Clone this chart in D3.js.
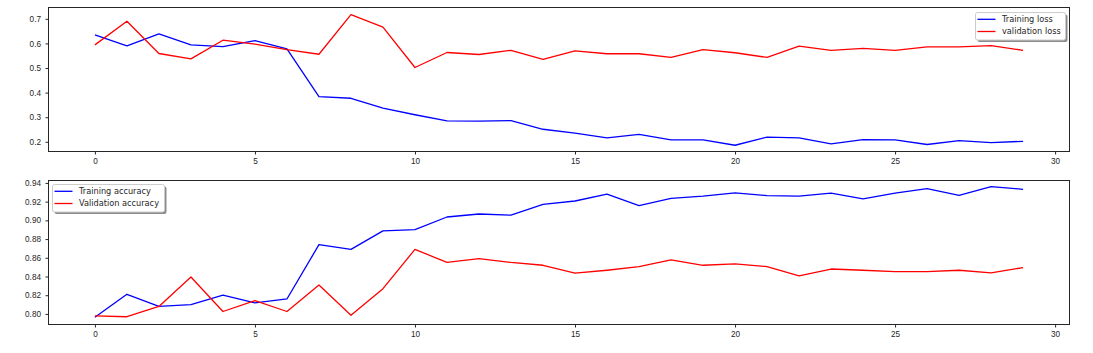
<!DOCTYPE html>
<html>
<head>
<meta charset="utf-8">
<script src="https://cdn.jsdelivr.net/npm/d3@7"></script>
<style>
  body { margin: 0; background: #fff; }
  svg { display: block; font-family: "DejaVu Sans", sans-serif; }
  .tick text { fill: #262626; font-size: 8.2px; }
  .tick line { stroke: #262626; }
  .domain { display: none; }
</style>
</head>
<body>
<svg id="chart" width="1093" height="353"></svg>
<script>
// epochs
const epochs = d3.range(30);

// loss per epoch
const trainLoss = [0.635, 0.590, 0.639, 0.594, 0.587, 0.611, 0.578, 0.384, 0.377, 0.337,
    0.310, 0.285, 0.284, 0.286, 0.251, 0.235, 0.216, 0.230, 0.208, 0.208,
    0.186, 0.219, 0.216, 0.192, 0.209, 0.208, 0.189, 0.205, 0.197, 0.202];
const valLoss = [0.594, 0.690, 0.559, 0.537, 0.613, 0.597, 0.575, 0.556, 0.717, 0.666,
    0.502, 0.563, 0.555, 0.572, 0.535, 0.570, 0.558, 0.558, 0.543, 0.575,
    0.562, 0.543, 0.589, 0.572, 0.580, 0.572, 0.586, 0.586, 0.591, 0.572];

// accuracy per epoch
const trainAcc = [0.7965, 0.821, 0.808, 0.810, 0.820, 0.8118, 0.816, 0.874, 0.869, 0.8887,
    0.890, 0.9036, 0.9068, 0.9055, 0.917, 0.9207, 0.928, 0.9158, 0.9236, 0.926,
    0.9293, 0.9265, 0.926, 0.929, 0.923, 0.929, 0.934, 0.9268, 0.936, 0.9332];
const valAcc = [0.798, 0.797, 0.808, 0.8395, 0.8026, 0.8143, 0.8026, 0.831, 0.7986, 0.827,
    0.869, 0.855, 0.859, 0.855, 0.852, 0.8435, 0.8467, 0.8506, 0.8577, 0.852,
    0.8534, 0.8506, 0.8406, 0.848, 0.8467, 0.8453, 0.8453, 0.8467, 0.8438, 0.8496];

const xTicks = [0, 5, 10, 15, 20, 25, 30];
const lossTicks = [0.2, 0.3, 0.4, 0.5, 0.6, 0.7];
const accTicks = [0.80, 0.82, 0.84, 0.86, 0.88, 0.90, 0.92, 0.94];

const svg = d3.select("#chart");
const left = 48.5, right = 1069.5;

const x = d3.scaleLinear()
    .domain([-1.45, 30.45])
    .range([left, right]);

function drawPanel(cfg) {
    const y = d3.scaleLinear()
        .domain(cfg.domain)
        .range([cfg.bottom, cfg.top]);

    const g = svg.append("g");

    g.append("g")
        .attr("transform", `translate(0,${cfg.bottom})`)
        .call(d3.axisBottom(x).tickValues(xTicks).tickSize(3).tickPadding(4).tickFormat(d3.format("d")))
        .selectAll("text").attr("dy", "0.71em");

    g.append("g")
        .attr("transform", `translate(${left},0)`)
        .call(d3.axisLeft(y).tickValues(cfg.ticks).tickSize(3).tickPadding(4.5).tickFormat(d3.format(cfg.fmt)));

    const line = d3.line()
        .x((d, i) => x(epochs[i]))
        .y(d => y(d));

    for (let s of cfg.series) {
        g.append("path")
            .datum(s.values)
            .attr("fill", "none")
            .attr("stroke", s.color)
            .attr("stroke-width", 1.3)
            .attr("stroke-linejoin", "round")
            .attr("d", line);
    }

    // frame
    g.append("rect")
        .attr("x", left)
        .attr("y", cfg.top)
        .attr("width", right - left)
        .attr("height", cfg.bottom - cfg.top)
        .attr("fill", "none")
        .attr("stroke", "#262626")
        .attr("stroke-width", 1);

    // legend
    const lg = cfg.legend;
    const lw = lg.width, lh = 27.5;
    const leg = g.append("g").attr("transform", `translate(${lg.x},${lg.y})`);
    leg.append("rect")
        .attr("x", 2).attr("y", 2)
        .attr("width", lw).attr("height", lh)
        .attr("rx", 2)
        .attr("fill", "#000").attr("opacity", 0.45);
    leg.append("rect")
        .attr("width", lw).attr("height", lh)
        .attr("rx", 2)
        .attr("fill", "#fff")
        .attr("stroke", "#cccccc");
    cfg.series.forEach((s, i) => {
        const cy = 6.8 + i * 12.2;
        leg.append("line")
            .attr("x1", 2).attr("x2", 20)
            .attr("y1", cy).attr("y2", cy)
            .attr("stroke", s.color)
            .attr("stroke-width", 1.3);
        leg.append("text")
            .attr("x", 26.5)
            .attr("y", cy)
            .attr("dy", "0.35em")
            .attr("font-size", 8.2)
            .attr("fill", "#262626")
            .text(s.name);
    });
}

drawPanel({
    top: 7.5, bottom: 151.5,
    domain: [0.1606, 0.746],
    ticks: lossTicks, fmt: ".1f",
    series: [
        {name: "Training loss", values: trainLoss, color: "#0000ff"},
        {name: "validation loss", values: valLoss, color: "#ff0000"}
    ],
    legend: {x: 975.5, y: 12.5, width: 90}
});

drawPanel({
    top: 180.5, bottom: 324.5,
    domain: [0.7887, 0.9426],
    ticks: accTicks, fmt: ".2f",
    series: [
        {name: "Training accuracy", values: trainAcc, color: "#0000ff"},
        {name: "Validation accuracy", values: valAcc, color: "#ff0000"}
    ],
    legend: {x: 52.5, y: 184.5, width: 112}
});
</script>
</body>
</html>
